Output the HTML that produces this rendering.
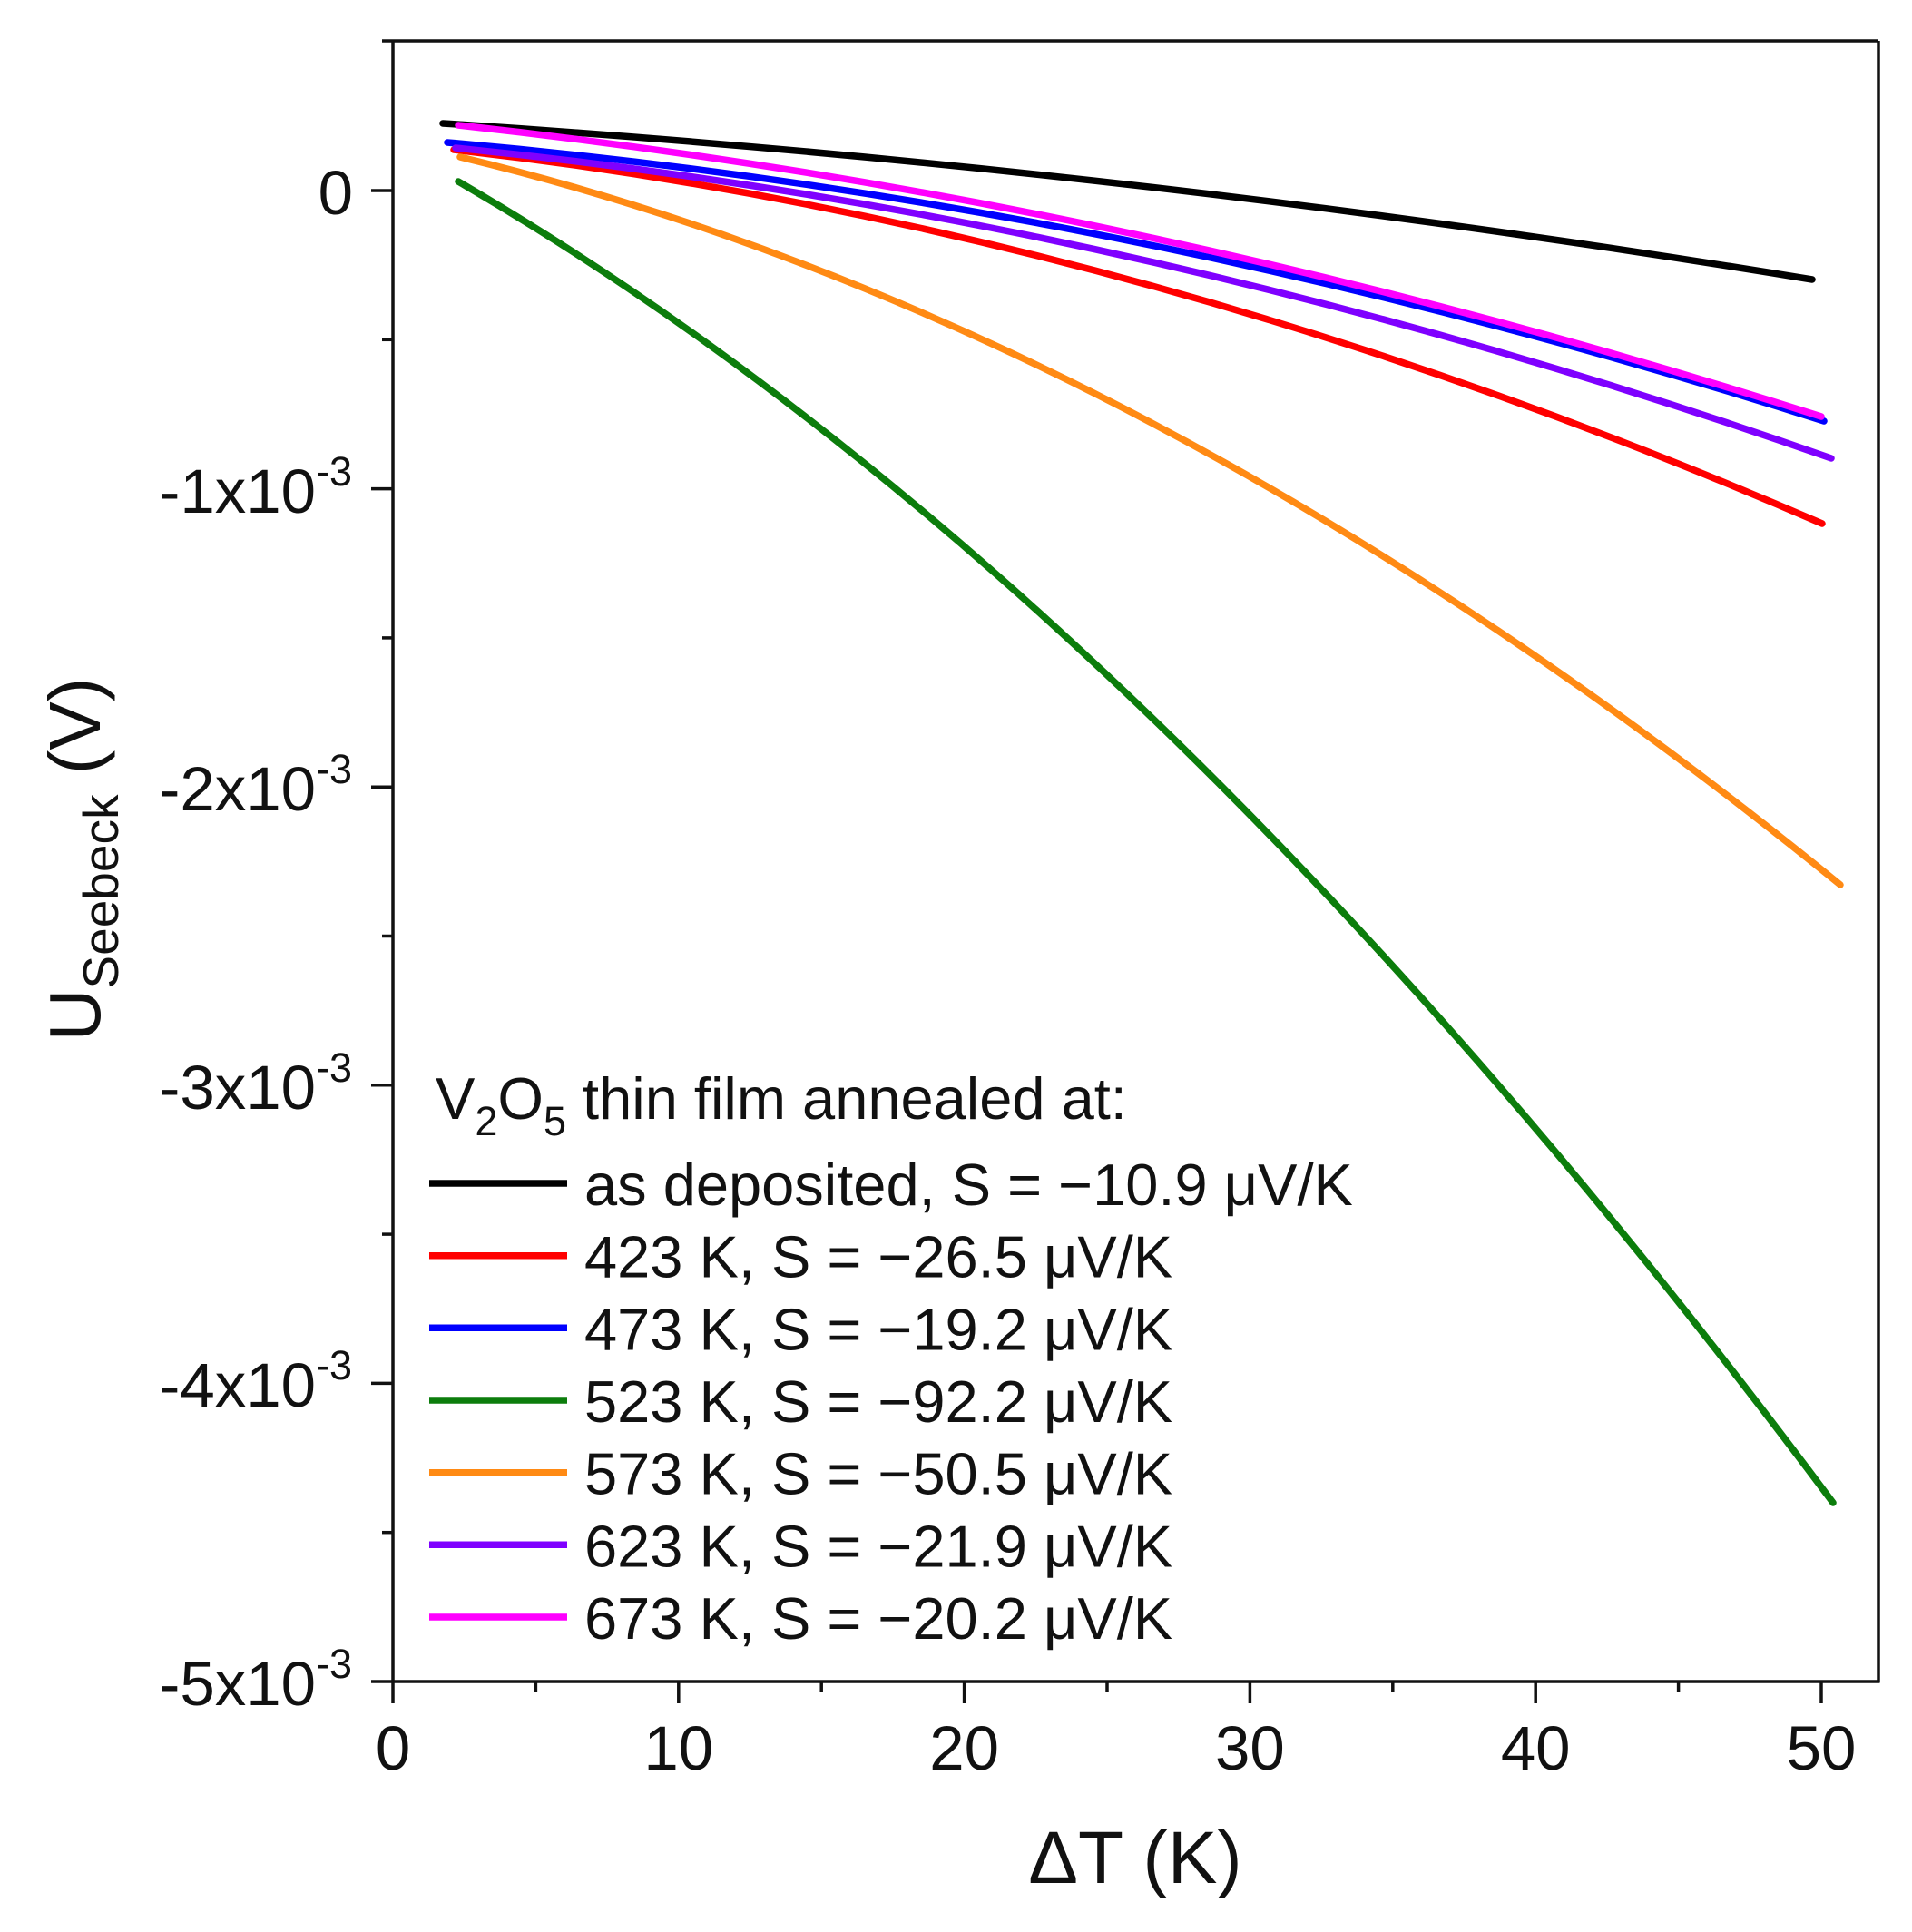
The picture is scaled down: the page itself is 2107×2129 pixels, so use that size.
<!DOCTYPE html>
<html>
<head>
<meta charset="utf-8">
<style>
  html, body { margin: 0; padding: 0; background: #ffffff; }
  svg { display: block; }
  text { font-family: "Liberation Sans", "DejaVu Sans", sans-serif; fill: #111; }
</style>
</head>
<body>
<svg width="2107" height="2129" viewBox="0 0 2107 2129" xmlns="http://www.w3.org/2000/svg">
  <rect x="0" y="0" width="2107" height="2129" fill="#ffffff"/>

  <!-- Curves -->
  <g fill="none" stroke-width="7.5" stroke-linecap="round" stroke-linejoin="round">
    <path d="M488,136 Q1242.5,184.5 1997,308" stroke="#000000"/>
    <path d="M500,165 Q1254,250.5 2008,577" stroke="#ff0000"/>
    <path d="M493,157 Q1252,223 2010,464" stroke="#0000ff"/>
    <path d="M505,200 Q1262,640 2020,1656" stroke="#0c7d0c"/>
    <path d="M507,173 Q1267,356 2028,975" stroke="#ff8a14"/>
    <path d="M502,163 Q1260,239 2018,505" stroke="#7f00ff"/>
    <path d="M505,138 Q1256,220 2007,459" stroke="#ff00ff"/>
  </g>

  <!-- Axes frame -->
  <g stroke="#111" stroke-width="3.5" fill="none">
    <line x1="421" y1="45" x2="2070" y2="45"/>
    <line x1="433" y1="45" x2="433" y2="1853"/>
    <line x1="2070" y1="45" x2="2070" y2="1853"/>
    <line x1="409" y1="1853" x2="2071.5" y2="1853"/>
  </g>

  <!-- Y ticks -->
  <g stroke="#111" stroke-width="3.5">
    <line x1="409" y1="210" x2="433" y2="210"/>
    <line x1="409" y1="538.6" x2="433" y2="538.6"/>
    <line x1="409" y1="867.2" x2="433" y2="867.2"/>
    <line x1="409" y1="1195.8" x2="433" y2="1195.8"/>
    <line x1="409" y1="1524.4" x2="433" y2="1524.4"/>
    <line x1="421" y1="374.3" x2="433" y2="374.3"/>
    <line x1="421" y1="702.9" x2="433" y2="702.9"/>
    <line x1="421" y1="1031.5" x2="433" y2="1031.5"/>
    <line x1="421" y1="1360.1" x2="433" y2="1360.1"/>
    <line x1="421" y1="1688.7" x2="433" y2="1688.7"/>
  </g>

  <!-- X ticks -->
  <g stroke="#111" stroke-width="3.5">
    <line x1="433" y1="1853" x2="433" y2="1877"/>
    <line x1="747.8" y1="1853" x2="747.8" y2="1877"/>
    <line x1="1062.6" y1="1853" x2="1062.6" y2="1877"/>
    <line x1="1377.4" y1="1853" x2="1377.4" y2="1877"/>
    <line x1="1692.2" y1="1853" x2="1692.2" y2="1877"/>
    <line x1="2007" y1="1853" x2="2007" y2="1877"/>
    <line x1="590.4" y1="1853" x2="590.4" y2="1864"/>
    <line x1="905.2" y1="1853" x2="905.2" y2="1864"/>
    <line x1="1220" y1="1853" x2="1220" y2="1864"/>
    <line x1="1534.8" y1="1853" x2="1534.8" y2="1864"/>
    <line x1="1849.6" y1="1853" x2="1849.6" y2="1864"/>
  </g>

  <!-- Y tick labels -->
  <g font-size="69" text-anchor="end">
    <text x="389" y="236">0</text>
    <text x="388" y="565">-1x10<tspan font-size="45" dy="-30">-3</tspan></text>
    <text x="388" y="893">-2x10<tspan font-size="45" dy="-30">-3</tspan></text>
    <text x="388" y="1222">-3x10<tspan font-size="45" dy="-30">-3</tspan></text>
    <text x="388" y="1550">-4x10<tspan font-size="45" dy="-30">-3</tspan></text>
    <text x="388" y="1879">-5x10<tspan font-size="45" dy="-30">-3</tspan></text>
  </g>

  <!-- X tick labels -->
  <g font-size="69" text-anchor="middle">
    <text x="433" y="1950">0</text>
    <text x="747.8" y="1950">10</text>
    <text x="1062.6" y="1950">20</text>
    <text x="1377.4" y="1950">30</text>
    <text x="1692.2" y="1950">40</text>
    <text x="2007" y="1950">50</text>
  </g>

  <!-- Axis titles -->
  <text x="1251" y="2075" font-size="82" text-anchor="middle">ΔT (K)</text>
  <text transform="translate(110,947) rotate(-90)" font-size="80" text-anchor="middle">U<tspan font-size="55" dy="20">Seebeck</tspan><tspan dy="-20"> (V)</tspan></text>

  <!-- Legend -->
  <text x="480" y="1233" font-size="65">V<tspan font-size="45" dy="18">2</tspan><tspan dy="-18">O</tspan><tspan font-size="45" dy="18">5</tspan><tspan dy="-18"> thin film annealed at:</tspan></text>

  <g stroke-width="7.5" stroke-linecap="butt">
    <line x1="473" y1="1304" x2="625" y2="1304" stroke="#000000"/>
    <line x1="473" y1="1383.7" x2="625" y2="1383.7" stroke="#ff0000"/>
    <line x1="473" y1="1463.3" x2="625" y2="1463.3" stroke="#0000ff"/>
    <line x1="473" y1="1543" x2="625" y2="1543" stroke="#0c7d0c"/>
    <line x1="473" y1="1622.7" x2="625" y2="1622.7" stroke="#ff8a14"/>
    <line x1="473" y1="1702.3" x2="625" y2="1702.3" stroke="#7f00ff"/>
    <line x1="473" y1="1782" x2="625" y2="1782" stroke="#ff00ff"/>
  </g>
  <g font-size="65">
    <text x="644" y="1328">as deposited, S = −10.9 μV/K</text>
    <text x="644" y="1407.7">423 K, S = −26.5 μV/K</text>
    <text x="644" y="1487.3">473 K, S = −19.2 μV/K</text>
    <text x="644" y="1567">523 K, S = −92.2 μV/K</text>
    <text x="644" y="1646.7">573 K, S = −50.5 μV/K</text>
    <text x="644" y="1726.3">623 K, S = −21.9 μV/K</text>
    <text x="644" y="1806">673 K, S = −20.2 μV/K</text>
  </g>
</svg>
</body>
</html>
